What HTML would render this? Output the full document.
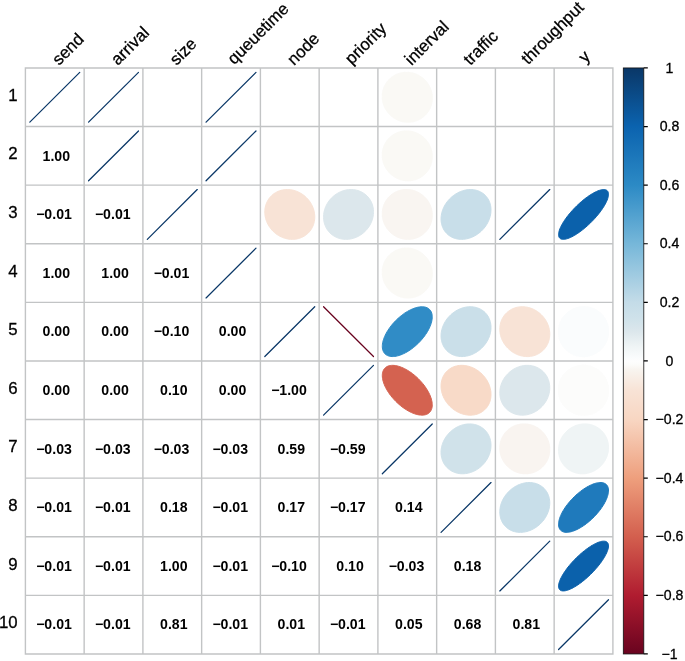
<!DOCTYPE html>
<html><head><meta charset="utf-8"><title>corrplot</title>
<style>html,body{margin:0;padding:0;background:#fff}svg{display:block}text{font-family:"Liberation Sans",sans-serif}</style></head><body>
<svg width="685" height="661" viewBox="0 0 685 661">
<rect width="685" height="661" fill="#fff"/>
<line x1="29.81" y1="122.16" x2="79.74" y2="72.34" stroke="#0A3767" stroke-width="1.25" stroke-linecap="round"/>
<line x1="88.56" y1="122.16" x2="138.49" y2="72.34" stroke="#0A3767" stroke-width="1.25" stroke-linecap="round"/>
<line x1="206.06" y1="122.16" x2="255.99" y2="72.34" stroke="#0A3767" stroke-width="1.25" stroke-linecap="round"/>
<polygon points="424.66,79.91 423.48,78.80 422.23,77.76 420.92,76.81 419.55,75.94 418.13,75.16 416.67,74.47 415.17,73.87 413.63,73.37 412.07,72.96 410.49,72.66 408.90,72.46 407.30,72.36 405.70,72.36 404.11,72.46 402.53,72.67 400.97,72.98 399.43,73.38 397.93,73.89 396.46,74.49 395.04,75.18 393.68,75.97 392.36,76.84 391.11,77.79 389.92,78.83 388.81,79.94 387.77,81.13 386.81,82.37 385.94,83.68 385.15,85.05 384.45,86.47 383.85,87.93 383.35,89.43 382.94,90.96 382.63,92.51 382.42,94.09 382.32,95.68 382.32,97.28 382.42,98.87 382.62,100.46 382.93,102.04 383.33,103.59 383.83,105.12 384.43,106.62 385.13,108.08 385.91,109.49 386.78,110.86 387.74,112.17 388.77,113.41 389.89,114.59 391.07,115.70 392.32,116.74 393.63,117.69 395.00,118.56 396.42,119.34 397.88,120.03 399.38,120.63 400.92,121.13 402.48,121.54 404.06,121.84 405.65,122.04 407.25,122.14 408.85,122.14 410.44,122.04 412.02,121.83 413.58,121.52 415.12,121.12 416.62,120.61 418.09,120.01 419.51,119.32 420.87,118.53 422.19,117.66 423.44,116.71 424.63,115.67 425.74,114.56 426.78,113.37 427.74,112.13 428.61,110.82 429.40,109.45 430.10,108.03 430.70,106.57 431.20,105.07 431.61,103.54 431.92,101.99 432.13,100.41 432.23,98.82 432.23,97.22 432.13,95.63 431.93,94.04 431.62,92.46 431.22,90.91 430.72,89.38 430.12,87.88 429.42,86.42 428.64,85.01 427.77,83.64 426.81,82.33 425.78,81.09 424.66,79.91" fill="#FAF9F5" stroke="#FAF9F5" stroke-width="1"/>
<line x1="88.56" y1="180.76" x2="138.49" y2="130.95" stroke="#0A3767" stroke-width="1.25" stroke-linecap="round"/>
<line x1="206.06" y1="180.76" x2="255.99" y2="130.95" stroke="#0A3767" stroke-width="1.25" stroke-linecap="round"/>
<polygon points="424.66,138.51 423.48,137.40 422.23,136.36 420.92,135.41 419.55,134.54 418.13,133.76 416.67,133.07 415.17,132.47 413.63,131.97 412.07,131.56 410.49,131.26 408.90,131.06 407.30,130.96 405.70,130.96 404.11,131.06 402.53,131.27 400.97,131.58 399.43,131.98 397.93,132.49 396.46,133.09 395.04,133.78 393.68,134.57 392.36,135.44 391.11,136.39 389.92,137.43 388.81,138.54 387.77,139.73 386.81,140.97 385.94,142.28 385.15,143.65 384.45,145.07 383.85,146.53 383.35,148.03 382.94,149.56 382.63,151.11 382.42,152.69 382.32,154.28 382.32,155.88 382.42,157.47 382.62,159.06 382.93,160.64 383.33,162.19 383.83,163.72 384.43,165.22 385.13,166.68 385.91,168.09 386.78,169.46 387.74,170.77 388.77,172.01 389.89,173.19 391.07,174.30 392.32,175.34 393.63,176.29 395.00,177.16 396.42,177.94 397.88,178.63 399.38,179.23 400.92,179.73 402.48,180.14 404.06,180.44 405.65,180.64 407.25,180.74 408.85,180.74 410.44,180.64 412.02,180.43 413.58,180.12 415.12,179.72 416.62,179.21 418.09,178.61 419.51,177.92 420.87,177.13 422.19,176.26 423.44,175.31 424.63,174.27 425.74,173.16 426.78,171.97 427.74,170.73 428.61,169.42 429.40,168.05 430.10,166.63 430.70,165.17 431.20,163.67 431.61,162.14 431.92,160.59 432.13,159.01 432.23,157.42 432.23,155.82 432.13,154.23 431.93,152.64 431.62,151.06 431.22,149.51 430.72,147.98 430.12,146.48 429.42,145.02 428.64,143.61 427.77,142.24 426.81,140.93 425.78,139.69 424.66,138.51" fill="#FAF9F5" stroke="#FAF9F5" stroke-width="1"/>
<line x1="147.31" y1="239.35" x2="197.24" y2="189.54" stroke="#0A3767" stroke-width="1.25" stroke-linecap="round"/>
<polygon points="306.52,197.74 305.30,196.59 304.02,195.52 302.68,194.52 301.28,193.60 299.84,192.77 298.35,192.03 296.83,191.38 295.28,190.83 293.71,190.37 292.12,190.01 290.53,189.76 288.92,189.60 287.33,189.55 285.74,189.59 284.17,189.74 282.62,189.99 281.10,190.35 279.62,190.80 278.18,191.35 276.79,191.99 275.45,192.73 274.17,193.55 272.95,194.46 271.80,195.45 270.73,196.52 269.73,197.67 268.82,198.88 267.99,200.16 267.26,201.50 266.61,202.89 266.06,204.32 265.61,205.80 265.26,207.32 265.00,208.86 264.85,210.43 264.81,212.01 264.86,213.60 265.02,215.20 265.28,216.79 265.64,218.38 266.09,219.94 266.65,221.49 267.30,223.00 268.04,224.49 268.88,225.93 269.79,227.32 270.80,228.66 271.87,229.94 273.03,231.16 274.25,232.31 275.53,233.38 276.87,234.38 278.27,235.30 279.71,236.13 281.20,236.87 282.72,237.52 284.27,238.07 285.84,238.53 287.43,238.89 289.02,239.14 290.63,239.30 292.22,239.35 293.81,239.31 295.38,239.16 296.93,238.91 298.45,238.55 299.93,238.10 301.37,237.55 302.76,236.91 304.10,236.17 305.38,235.35 306.60,234.44 307.75,233.45 308.82,232.38 309.82,231.23 310.73,230.02 311.56,228.74 312.29,227.40 312.94,226.01 313.49,224.58 313.94,223.10 314.29,221.58 314.55,220.04 314.70,218.47 314.74,216.89 314.69,215.30 314.53,213.70 314.27,212.11 313.91,210.52 313.46,208.96 312.90,207.41 312.25,205.90 311.51,204.41 310.67,202.97 309.76,201.58 308.75,200.24 307.68,198.96 306.52,197.74" fill="#F8E3D6" stroke="#F8E3D6" stroke-width="1"/>
<polygon points="367.04,195.98 365.93,194.95 364.75,194.00 363.50,193.13 362.19,192.35 360.82,191.66 359.40,191.06 357.94,190.56 356.44,190.16 354.91,189.86 353.35,189.66 351.77,189.56 350.17,189.56 348.57,189.66 346.98,189.87 345.38,190.18 343.80,190.59 342.24,191.09 340.70,191.70 339.20,192.39 337.74,193.18 336.32,194.05 334.95,195.01 333.63,196.05 332.38,197.16 331.19,198.34 330.07,199.59 329.03,200.91 328.07,202.27 327.20,203.69 326.41,205.15 325.71,206.65 325.11,208.18 324.60,209.74 324.19,211.31 323.88,212.90 323.68,214.50 323.57,216.10 323.57,217.68 323.67,219.26 323.87,220.82 324.17,222.34 324.57,223.84 325.08,225.30 325.67,226.71 326.36,228.08 327.15,229.39 328.02,230.63 328.97,231.81 330.01,232.92 331.12,233.95 332.30,234.90 333.55,235.77 334.86,236.55 336.23,237.24 337.65,237.84 339.11,238.34 340.61,238.74 342.14,239.04 343.70,239.24 345.28,239.34 346.88,239.34 348.48,239.24 350.07,239.03 351.67,238.72 353.25,238.31 354.81,237.81 356.35,237.20 357.85,236.51 359.31,235.72 360.73,234.85 362.10,233.89 363.42,232.85 364.67,231.74 365.86,230.56 366.98,229.31 368.02,227.99 368.98,226.63 369.85,225.21 370.64,223.75 371.34,222.25 371.94,220.72 372.45,219.16 372.86,217.59 373.17,216.00 373.37,214.40 373.48,212.80 373.48,211.22 373.38,209.64 373.18,208.08 372.88,206.56 372.48,205.06 371.97,203.60 371.38,202.19 370.69,200.82 369.90,199.51 369.03,198.27 368.08,197.09 367.04,195.98" fill="#DCE7EC" stroke="#DCE7EC" stroke-width="1"/>
<polygon points="424.66,197.11 423.48,196.00 422.23,194.96 420.92,194.01 419.55,193.14 418.13,192.36 416.67,191.67 415.17,191.07 413.63,190.57 412.07,190.16 410.49,189.86 408.90,189.66 407.30,189.56 405.70,189.56 404.11,189.66 402.53,189.87 400.97,190.18 399.43,190.58 397.93,191.09 396.46,191.69 395.04,192.38 393.68,193.17 392.36,194.04 391.11,194.99 389.92,196.03 388.81,197.14 387.77,198.33 386.81,199.57 385.94,200.88 385.15,202.25 384.45,203.67 383.85,205.13 383.35,206.63 382.94,208.16 382.63,209.71 382.42,211.29 382.32,212.88 382.32,214.48 382.42,216.07 382.62,217.66 382.93,219.24 383.33,220.79 383.83,222.32 384.43,223.82 385.13,225.28 385.91,226.69 386.78,228.06 387.74,229.37 388.77,230.61 389.89,231.79 391.07,232.90 392.32,233.94 393.63,234.89 395.00,235.76 396.42,236.54 397.88,237.23 399.38,237.83 400.92,238.33 402.48,238.74 404.06,239.04 405.65,239.24 407.25,239.34 408.85,239.34 410.44,239.24 412.02,239.03 413.58,238.72 415.12,238.32 416.62,237.81 418.09,237.21 419.51,236.52 420.87,235.73 422.19,234.86 423.44,233.91 424.63,232.87 425.74,231.76 426.78,230.57 427.74,229.33 428.61,228.02 429.40,226.65 430.10,225.23 430.70,223.77 431.20,222.27 431.61,220.74 431.92,219.19 432.13,217.61 432.23,216.02 432.23,214.42 432.13,212.83 431.93,211.24 431.62,209.66 431.22,208.11 430.72,206.58 430.12,205.08 429.42,203.62 428.64,202.21 427.77,200.84 426.81,199.53 425.78,198.29 424.66,197.11" fill="#F9F5F1" stroke="#F9F5F1" stroke-width="1"/>
<polygon points="485.20,195.32 484.14,194.34 483.00,193.44 481.79,192.62 480.52,191.90 479.19,191.27 477.80,190.73 476.37,190.30 474.89,189.96 473.38,189.72 471.83,189.58 470.26,189.55 468.68,189.61 467.08,189.78 465.48,190.05 463.88,190.43 462.30,190.90 460.72,191.46 459.17,192.12 457.64,192.88 456.15,193.72 454.71,194.65 453.30,195.65 451.95,196.74 450.66,197.90 449.43,199.12 448.27,200.41 447.18,201.76 446.17,203.16 445.24,204.61 444.40,206.09 443.64,207.61 442.98,209.16 442.41,210.73 441.94,212.32 441.57,213.91 441.30,215.51 441.13,217.10 441.06,218.68 441.09,220.24 441.23,221.78 441.47,223.29 441.81,224.77 442.25,226.20 442.79,227.58 443.42,228.91 444.14,230.18 444.96,231.38 445.86,232.52 446.85,233.58 447.91,234.56 449.05,235.46 450.26,236.28 451.53,237.00 452.86,237.63 454.25,238.17 455.68,238.60 457.16,238.94 458.67,239.18 460.22,239.32 461.79,239.35 463.37,239.29 464.97,239.12 466.57,238.85 468.17,238.47 469.75,238.00 471.33,237.44 472.88,236.78 474.41,236.02 475.90,235.18 477.34,234.25 478.75,233.25 480.10,232.16 481.39,231.00 482.62,229.78 483.78,228.49 484.87,227.14 485.88,225.74 486.81,224.29 487.65,222.81 488.41,221.29 489.07,219.74 489.64,218.17 490.11,216.58 490.48,214.99 490.75,213.39 490.92,211.80 490.99,210.22 490.96,208.66 490.82,207.12 490.58,205.61 490.24,204.13 489.80,202.70 489.26,201.32 488.63,199.99 487.91,198.72 487.09,197.52 486.19,196.38 485.20,195.32" fill="#C8DEE9" stroke="#C8DEE9" stroke-width="1"/>
<line x1="499.81" y1="239.35" x2="549.74" y2="189.54" stroke="#0A3767" stroke-width="1.25" stroke-linecap="round"/>
<polygon points="607.28,190.76 606.74,190.31 606.10,189.97 605.37,189.73 604.55,189.59 603.64,189.55 602.65,189.61 601.59,189.77 600.45,190.04 599.23,190.41 597.96,190.87 596.62,191.43 595.23,192.09 593.80,192.84 592.32,193.68 590.80,194.60 589.26,195.60 587.69,196.69 586.10,197.84 584.51,199.06 582.91,200.35 581.31,201.69 579.72,203.09 578.15,204.53 576.59,206.02 575.07,207.54 573.58,209.08 572.14,210.65 570.74,212.24 569.39,213.83 568.10,215.43 566.87,217.02 565.72,218.60 564.63,220.17 563.62,221.71 562.70,223.22 561.86,224.70 561.11,226.13 560.45,227.51 559.89,228.85 559.42,230.12 559.05,231.33 558.79,232.47 558.62,233.53 558.56,234.52 558.60,235.42 558.74,236.24 558.98,236.97 559.33,237.60 559.77,238.14 560.31,238.59 560.95,238.93 561.68,239.17 562.50,239.31 563.41,239.35 564.40,239.29 565.46,239.13 566.60,238.86 567.82,238.49 569.09,238.03 570.43,237.47 571.82,236.81 573.25,236.06 574.73,235.22 576.25,234.30 577.79,233.30 579.36,232.21 580.95,231.06 582.54,229.84 584.14,228.55 585.74,227.21 587.33,225.81 588.90,224.37 590.46,222.88 591.98,221.36 593.47,219.82 594.91,218.25 596.31,216.66 597.66,215.07 598.95,213.47 600.18,211.88 601.33,210.30 602.42,208.73 603.43,207.19 604.35,205.68 605.19,204.20 605.94,202.77 606.60,201.39 607.16,200.05 607.63,198.78 608.00,197.57 608.26,196.43 608.43,195.37 608.49,194.38 608.45,193.48 608.31,192.66 608.07,191.93 607.72,191.30 607.28,190.76" fill="#0B61AB" stroke="#0B61AB" stroke-width="1"/>
<line x1="206.06" y1="297.96" x2="255.99" y2="248.15" stroke="#0A3767" stroke-width="1.25" stroke-linecap="round"/>
<polygon points="424.66,255.71 423.48,254.60 422.23,253.56 420.92,252.61 419.55,251.74 418.13,250.96 416.67,250.27 415.17,249.67 413.63,249.17 412.07,248.76 410.49,248.46 408.90,248.26 407.30,248.16 405.70,248.16 404.11,248.26 402.53,248.47 400.97,248.78 399.43,249.18 397.93,249.69 396.46,250.29 395.04,250.98 393.68,251.77 392.36,252.64 391.11,253.59 389.92,254.63 388.81,255.74 387.77,256.93 386.81,258.17 385.94,259.48 385.15,260.85 384.45,262.27 383.85,263.73 383.35,265.23 382.94,266.76 382.63,268.31 382.42,269.89 382.32,271.48 382.32,273.08 382.42,274.67 382.62,276.26 382.93,277.84 383.33,279.39 383.83,280.92 384.43,282.42 385.13,283.88 385.91,285.29 386.78,286.66 387.74,287.97 388.77,289.21 389.89,290.39 391.07,291.50 392.32,292.54 393.63,293.49 395.00,294.36 396.42,295.14 397.88,295.83 399.38,296.43 400.92,296.93 402.48,297.34 404.06,297.64 405.65,297.84 407.25,297.94 408.85,297.94 410.44,297.84 412.02,297.63 413.58,297.32 415.12,296.92 416.62,296.41 418.09,295.81 419.51,295.12 420.87,294.33 422.19,293.46 423.44,292.51 424.63,291.47 425.74,290.36 426.78,289.17 427.74,287.93 428.61,286.62 429.40,285.25 430.10,283.83 430.70,282.37 431.20,280.87 431.61,279.34 431.92,277.79 432.13,276.21 432.23,274.62 432.23,273.02 432.13,271.43 431.93,269.84 431.62,268.26 431.22,266.71 430.72,265.18 430.12,263.68 429.42,262.22 428.64,260.81 427.77,259.44 426.81,258.13 425.78,256.89 424.66,255.71" fill="#FAF9F5" stroke="#FAF9F5" stroke-width="1"/>
<line x1="264.81" y1="356.55" x2="314.74" y2="306.75" stroke="#0A3767" stroke-width="1.25" stroke-linecap="round"/>
<line x1="323.56" y1="306.75" x2="373.49" y2="356.55" stroke="#69031F" stroke-width="1.25" stroke-linecap="round"/>
<polygon points="429.54,309.44 428.77,308.77 427.91,308.18 426.97,307.70 425.94,307.31 424.84,307.02 423.67,306.84 422.43,306.75 421.13,306.77 419.77,306.89 418.36,307.11 416.90,307.43 415.40,307.85 413.87,308.37 412.32,308.99 410.74,309.70 409.15,310.50 407.55,311.38 405.95,312.35 404.35,313.40 402.77,314.52 401.21,315.72 399.67,316.97 398.16,318.29 396.69,319.67 395.26,321.09 393.88,322.56 392.56,324.06 391.30,325.60 390.10,327.16 388.98,328.74 387.93,330.33 386.95,331.92 386.07,333.52 385.27,335.11 384.56,336.68 383.94,338.23 383.42,339.76 382.99,341.25 382.67,342.70 382.45,344.11 382.33,345.47 382.31,346.76 382.40,348.00 382.58,349.17 382.87,350.27 383.26,351.29 383.75,352.23 384.33,353.09 385.01,353.86 385.78,354.53 386.64,355.12 387.58,355.60 388.61,355.99 389.71,356.28 390.88,356.46 392.12,356.55 393.42,356.53 394.78,356.41 396.19,356.19 397.65,355.87 399.15,355.45 400.68,354.93 402.23,354.31 403.81,353.60 405.40,352.80 407.00,351.92 408.60,350.95 410.20,349.90 411.78,348.78 413.34,347.58 414.88,346.33 416.39,345.01 417.86,343.63 419.29,342.21 420.67,340.74 421.99,339.24 423.25,337.70 424.45,336.14 425.57,334.56 426.62,332.97 427.60,331.38 428.48,329.78 429.28,328.19 429.99,326.62 430.61,325.07 431.13,323.54 431.56,322.05 431.88,320.60 432.10,319.19 432.22,317.83 432.24,316.54 432.15,315.30 431.97,314.13 431.68,313.03 431.29,312.01 430.80,311.07 430.22,310.21 429.54,309.44" fill="#308CC6" stroke="#308CC6" stroke-width="1"/>
<polygon points="485.12,312.60 484.05,311.61 482.91,310.71 481.70,309.89 480.42,309.15 479.08,308.52 477.69,307.97 476.25,307.53 474.77,307.18 473.26,306.93 471.71,306.79 470.14,306.75 468.55,306.80 466.96,306.97 465.36,307.23 463.76,307.59 462.17,308.06 460.60,308.61 459.05,309.27 457.53,310.01 456.04,310.85 454.59,311.77 453.19,312.77 451.85,313.85 450.56,315.00 449.34,316.22 448.18,317.51 447.10,318.85 446.09,320.25 445.17,321.69 444.33,323.17 443.59,324.69 442.93,326.24 442.37,327.80 441.91,329.39 441.54,330.98 441.28,332.58 441.12,334.17 441.06,335.75 441.10,337.32 441.24,338.86 441.49,340.37 441.84,341.85 442.29,343.29 442.83,344.67 443.47,346.01 444.20,347.28 445.03,348.49 445.94,349.63 446.93,350.70 448.00,351.69 449.14,352.59 450.35,353.41 451.63,354.15 452.97,354.78 454.36,355.33 455.80,355.77 457.28,356.12 458.79,356.37 460.34,356.51 461.91,356.55 463.50,356.50 465.09,356.33 466.69,356.07 468.29,355.71 469.88,355.24 471.45,354.69 473.00,354.03 474.52,353.29 476.01,352.45 477.46,351.53 478.86,350.53 480.20,349.45 481.49,348.30 482.71,347.08 483.87,345.79 484.95,344.45 485.96,343.05 486.88,341.61 487.72,340.13 488.46,338.61 489.12,337.06 489.68,335.50 490.14,333.91 490.51,332.32 490.77,330.72 490.93,329.13 490.99,327.55 490.95,325.98 490.81,324.44 490.56,322.93 490.21,321.45 489.76,320.01 489.22,318.63 488.58,317.29 487.85,316.02 487.02,314.81 486.11,313.67 485.12,312.60" fill="#CADFE9" stroke="#CADFE9" stroke-width="1"/>
<polygon points="541.52,314.94 540.30,313.79 539.02,312.72 537.68,311.72 536.28,310.80 534.84,309.97 533.35,309.23 531.83,308.58 530.28,308.03 528.71,307.57 527.12,307.21 525.53,306.96 523.92,306.80 522.33,306.75 520.74,306.79 519.17,306.94 517.62,307.19 516.10,307.55 514.62,308.00 513.18,308.55 511.79,309.19 510.45,309.93 509.17,310.75 507.95,311.66 506.80,312.65 505.73,313.72 504.73,314.87 503.82,316.08 502.99,317.36 502.26,318.70 501.61,320.09 501.06,321.52 500.61,323.00 500.26,324.52 500.00,326.06 499.85,327.63 499.81,329.21 499.86,330.80 500.02,332.40 500.28,333.99 500.64,335.58 501.09,337.14 501.65,338.69 502.30,340.20 503.04,341.69 503.88,343.13 504.79,344.52 505.80,345.86 506.87,347.14 508.03,348.36 509.25,349.51 510.53,350.58 511.87,351.58 513.27,352.50 514.71,353.33 516.20,354.07 517.72,354.72 519.27,355.27 520.84,355.73 522.43,356.09 524.02,356.34 525.63,356.50 527.22,356.55 528.81,356.51 530.38,356.36 531.93,356.11 533.45,355.75 534.93,355.30 536.37,354.75 537.76,354.11 539.10,353.37 540.38,352.55 541.60,351.64 542.75,350.65 543.82,349.58 544.82,348.43 545.73,347.22 546.56,345.94 547.29,344.60 547.94,343.21 548.49,341.78 548.94,340.30 549.29,338.78 549.55,337.24 549.70,335.67 549.74,334.09 549.69,332.50 549.53,330.90 549.27,329.31 548.91,327.72 548.46,326.16 547.90,324.61 547.25,323.10 546.51,321.61 545.67,320.17 544.76,318.78 543.75,317.44 542.68,316.16 541.52,314.94" fill="#F8E3D6" stroke="#F8E3D6" stroke-width="1"/>
<polygon points="601.27,313.95 600.11,312.87 598.88,311.86 597.58,310.93 596.23,310.09 594.83,309.33 593.38,308.67 591.89,308.10 590.36,307.63 588.81,307.26 587.24,306.99 585.65,306.82 584.05,306.75 582.45,306.78 580.85,306.92 579.27,307.15 577.70,307.49 576.16,307.93 574.64,308.46 573.17,309.09 571.73,309.82 570.35,310.63 569.01,311.53 567.74,312.51 566.54,313.57 565.40,314.70 564.34,315.91 563.35,317.18 562.45,318.51 561.64,319.89 560.91,321.32 560.28,322.79 559.74,324.30 559.30,325.84 558.97,327.40 558.73,328.99 558.59,330.58 558.56,332.17 558.63,333.77 558.80,335.35 559.07,336.92 559.44,338.47 559.92,339.99 560.49,341.48 561.15,342.93 561.91,344.32 562.75,345.67 563.68,346.96 564.69,348.19 565.78,349.35 566.94,350.43 568.17,351.44 569.47,352.37 570.82,353.21 572.22,353.97 573.67,354.63 575.16,355.20 576.69,355.67 578.24,356.04 579.81,356.31 581.40,356.48 583.00,356.55 584.60,356.52 586.20,356.38 587.78,356.15 589.35,355.81 590.89,355.37 592.41,354.84 593.88,354.21 595.32,353.48 596.70,352.67 598.04,351.77 599.31,350.79 600.51,349.73 601.65,348.60 602.71,347.39 603.70,346.12 604.60,344.79 605.41,343.41 606.14,341.98 606.77,340.51 607.31,339.00 607.75,337.46 608.08,335.90 608.32,334.31 608.46,332.72 608.49,331.13 608.42,329.53 608.25,327.95 607.98,326.38 607.61,324.83 607.13,323.31 606.56,321.82 605.90,320.37 605.14,318.98 604.30,317.63 603.37,316.34 602.36,315.11 601.27,313.95" fill="#FAFCFD" stroke="#FAFCFD" stroke-width="1"/>
<line x1="323.56" y1="415.15" x2="373.49" y2="365.35" stroke="#0A3767" stroke-width="1.25" stroke-linecap="round"/>
<polygon points="418.58,378.97 417.13,377.57 415.64,376.23 414.12,374.94 412.56,373.71 410.99,372.55 409.40,371.46 407.80,370.46 406.20,369.53 404.60,368.69 403.02,367.93 401.45,367.27 399.91,366.70 398.39,366.23 396.92,365.86 395.48,365.59 394.10,365.42 392.77,365.35 391.49,365.38 390.29,365.52 389.15,365.75 388.09,366.09 387.10,366.53 386.20,367.06 385.39,367.69 384.66,368.42 384.03,369.23 383.49,370.13 383.05,371.11 382.72,372.17 382.48,373.30 382.34,374.51 382.31,375.78 382.38,377.11 382.55,378.49 382.82,379.92 383.19,381.39 383.67,382.90 384.24,384.44 384.90,386.01 385.66,387.59 386.50,389.18 387.43,390.77 388.44,392.37 389.53,393.95 390.69,395.52 391.92,397.07 393.22,398.59 394.57,400.08 395.97,401.53 397.42,402.93 398.91,404.27 400.43,405.56 401.99,406.79 403.56,407.95 405.15,409.04 406.75,410.04 408.35,410.97 409.95,411.81 411.53,412.57 413.10,413.23 414.64,413.80 416.16,414.27 417.63,414.64 419.07,414.91 420.45,415.08 421.78,415.15 423.06,415.12 424.26,414.98 425.40,414.75 426.46,414.41 427.45,413.97 428.35,413.44 429.16,412.81 429.89,412.08 430.52,411.27 431.06,410.37 431.50,409.39 431.83,408.33 432.07,407.20 432.21,405.99 432.24,404.72 432.17,403.39 432.00,402.01 431.73,400.58 431.36,399.11 430.88,397.60 430.31,396.06 429.65,394.49 428.89,392.91 428.05,391.32 427.12,389.73 426.11,388.13 425.02,386.55 423.86,384.98 422.63,383.43 421.33,381.91 419.98,380.42 418.58,378.97" fill="#D46250" stroke="#D46250" stroke-width="1"/>
<polygon points="482.11,374.21 480.85,373.02 479.54,371.90 478.16,370.86 476.74,369.90 475.27,369.02 473.77,368.23 472.23,367.53 470.67,366.92 469.09,366.41 467.49,366.00 465.89,365.69 464.29,365.47 462.70,365.36 461.12,365.35 459.56,365.45 458.03,365.64 456.53,365.94 455.07,366.34 453.66,366.83 452.29,367.42 450.99,368.11 449.74,368.88 448.56,369.75 447.45,370.70 446.42,371.73 445.47,372.83 444.61,374.01 443.83,375.25 443.14,376.55 442.55,377.91 442.05,379.33 441.65,380.78 441.36,382.28 441.16,383.81 441.07,385.36 441.07,386.94 441.18,388.52 441.40,390.12 441.71,391.71 442.13,393.30 442.64,394.88 443.25,396.44 443.95,397.97 444.74,399.47 445.62,400.94 446.59,402.36 447.63,403.73 448.75,405.04 449.94,406.29 451.20,407.48 452.51,408.60 453.89,409.64 455.31,410.60 456.78,411.48 458.28,412.27 459.82,412.97 461.38,413.58 462.96,414.09 464.56,414.50 466.16,414.81 467.76,415.03 469.35,415.14 470.93,415.15 472.49,415.05 474.02,414.86 475.52,414.56 476.98,414.16 478.39,413.67 479.76,413.08 481.06,412.39 482.31,411.62 483.49,410.75 484.60,409.80 485.63,408.77 486.58,407.67 487.44,406.49 488.22,405.25 488.91,403.95 489.50,402.59 490.00,401.17 490.40,399.72 490.69,398.22 490.89,396.69 490.98,395.14 490.98,393.56 490.87,391.98 490.65,390.38 490.34,388.79 489.92,387.20 489.41,385.62 488.80,384.06 488.10,382.53 487.31,381.03 486.43,379.56 485.46,378.14 484.42,376.77 483.30,375.46 482.11,374.21" fill="#F8DAC8" stroke="#F8DAC8" stroke-width="1"/>
<polygon points="543.29,371.78 542.18,370.75 541.00,369.80 539.75,368.93 538.44,368.15 537.07,367.46 535.65,366.86 534.19,366.36 532.69,365.96 531.16,365.66 529.60,365.46 528.02,365.36 526.42,365.36 524.82,365.46 523.23,365.67 521.63,365.98 520.05,366.39 518.49,366.89 516.95,367.50 515.45,368.19 513.99,368.98 512.57,369.85 511.20,370.81 509.88,371.85 508.63,372.96 507.44,374.14 506.32,375.39 505.28,376.71 504.32,378.07 503.45,379.49 502.66,380.95 501.96,382.45 501.36,383.98 500.85,385.54 500.44,387.11 500.13,388.70 499.93,390.30 499.82,391.90 499.82,393.48 499.92,395.06 500.12,396.62 500.42,398.14 500.82,399.64 501.33,401.10 501.92,402.51 502.61,403.88 503.40,405.19 504.27,406.43 505.22,407.61 506.26,408.72 507.37,409.75 508.55,410.70 509.80,411.57 511.11,412.35 512.48,413.04 513.90,413.64 515.36,414.14 516.86,414.54 518.39,414.84 519.95,415.04 521.53,415.14 523.13,415.14 524.73,415.04 526.32,414.83 527.92,414.52 529.50,414.11 531.06,413.61 532.60,413.00 534.10,412.31 535.56,411.52 536.98,410.65 538.35,409.69 539.67,408.65 540.92,407.54 542.11,406.36 543.23,405.11 544.27,403.79 545.23,402.43 546.10,401.01 546.89,399.55 547.59,398.05 548.19,396.52 548.70,394.96 549.11,393.39 549.42,391.80 549.62,390.20 549.73,388.60 549.73,387.02 549.63,385.44 549.43,383.88 549.13,382.36 548.73,380.86 548.22,379.40 547.63,377.99 546.94,376.62 546.15,375.31 545.28,374.07 544.33,372.89 543.29,371.78" fill="#DCE7EC" stroke="#DCE7EC" stroke-width="1"/>
<polygon points="601.09,372.73 599.92,371.63 598.68,370.61 597.38,369.67 596.02,368.81 594.61,368.04 593.15,367.37 591.65,366.78 590.12,366.30 588.57,365.91 586.99,365.62 585.40,365.44 583.80,365.35 582.20,365.37 580.61,365.49 579.02,365.71 577.46,366.03 575.92,366.45 574.41,366.97 572.94,367.59 571.51,368.30 570.14,369.10 568.81,369.98 567.55,370.95 566.35,372.00 565.23,373.12 564.18,374.32 563.21,375.58 562.32,376.89 561.52,378.27 560.81,379.69 560.19,381.16 559.67,382.66 559.25,384.20 558.92,385.76 558.70,387.34 558.58,388.93 558.56,390.52 558.65,392.12 558.83,393.71 559.12,395.28 559.51,396.83 560.00,398.36 560.58,399.85 561.26,401.30 562.03,402.71 562.89,404.07 563.83,405.37 564.86,406.60 565.96,407.77 567.13,408.87 568.37,409.89 569.67,410.83 571.03,411.69 572.44,412.46 573.90,413.13 575.40,413.72 576.93,414.20 578.48,414.59 580.06,414.88 581.65,415.06 583.25,415.15 584.85,415.13 586.44,415.01 588.03,414.79 589.59,414.47 591.13,414.05 592.64,413.53 594.11,412.91 595.54,412.20 596.91,411.40 598.24,410.52 599.50,409.55 600.70,408.50 601.82,407.38 602.87,406.18 603.84,404.92 604.73,403.61 605.53,402.23 606.24,400.81 606.86,399.34 607.38,397.84 607.80,396.30 608.13,394.74 608.35,393.16 608.47,391.57 608.49,389.98 608.40,388.38 608.22,386.79 607.93,385.22 607.54,383.67 607.05,382.14 606.47,380.65 605.79,379.20 605.02,377.79 604.16,376.43 603.22,375.13 602.19,373.90 601.09,372.73" fill="#FCFCFB" stroke="#FCFCFB" stroke-width="1"/>
<line x1="382.31" y1="473.75" x2="432.24" y2="423.95" stroke="#0A3767" stroke-width="1.25" stroke-linecap="round"/>
<polygon points="484.88,430.05 483.79,429.04 482.63,428.11 481.40,427.27 480.11,426.52 478.76,425.86 477.35,425.29 475.91,424.82 474.42,424.45 472.89,424.18 471.34,424.01 469.77,423.95 468.18,423.98 466.58,424.12 464.98,424.36 463.38,424.70 461.80,425.14 460.23,425.67 458.68,426.31 457.17,427.03 455.69,427.84 454.26,428.74 452.87,429.73 451.54,430.79 450.26,431.92 449.06,433.13 447.92,434.40 446.85,435.73 445.87,437.11 444.97,438.54 444.15,440.02 443.42,441.53 442.79,443.07 442.25,444.63 441.81,446.21 441.47,447.81 441.23,449.40 441.09,451.00 441.06,452.58 441.12,454.15 441.29,455.70 441.57,457.22 441.94,458.70 442.41,460.15 442.98,461.55 443.64,462.90 444.39,464.18 445.24,465.41 446.16,466.57 447.17,467.65 448.26,468.66 449.42,469.59 450.65,470.43 451.94,471.18 453.29,471.84 454.70,472.41 456.14,472.88 457.63,473.25 459.16,473.52 460.71,473.69 462.28,473.75 463.87,473.72 465.47,473.58 467.07,473.34 468.67,473.00 470.25,472.56 471.82,472.03 473.37,471.39 474.88,470.67 476.36,469.86 477.79,468.96 479.18,467.97 480.51,466.91 481.79,465.78 482.99,464.57 484.13,463.30 485.20,461.97 486.18,460.59 487.08,459.16 487.90,457.68 488.63,456.17 489.26,454.63 489.80,453.07 490.24,451.49 490.58,449.89 490.82,448.30 490.96,446.70 490.99,445.12 490.93,443.55 490.76,442.00 490.48,440.48 490.11,439.00 489.64,437.55 489.07,436.15 488.41,434.80 487.66,433.52 486.81,432.29 485.89,431.13 484.88,430.05" fill="#D0E2EA" stroke="#D0E2EA" stroke-width="1"/>
<polygon points="542.16,431.51 540.98,430.40 539.73,429.36 538.42,428.41 537.05,427.54 535.63,426.76 534.17,426.07 532.67,425.47 531.13,424.97 529.57,424.56 527.99,424.26 526.40,424.06 524.80,423.96 523.20,423.96 521.61,424.06 520.03,424.27 518.47,424.58 516.93,424.98 515.43,425.49 513.96,426.09 512.54,426.78 511.18,427.57 509.86,428.44 508.61,429.39 507.42,430.43 506.31,431.54 505.27,432.73 504.31,433.97 503.44,435.28 502.65,436.65 501.95,438.07 501.35,439.53 500.85,441.03 500.44,442.56 500.13,444.11 499.92,445.69 499.82,447.28 499.82,448.88 499.92,450.47 500.12,452.06 500.43,453.64 500.83,455.19 501.33,456.72 501.93,458.22 502.63,459.68 503.41,461.09 504.28,462.46 505.24,463.77 506.27,465.01 507.39,466.19 508.57,467.30 509.82,468.34 511.13,469.29 512.50,470.16 513.92,470.94 515.38,471.63 516.88,472.23 518.42,472.73 519.98,473.14 521.56,473.44 523.15,473.64 524.75,473.74 526.35,473.74 527.94,473.64 529.52,473.43 531.08,473.12 532.62,472.72 534.12,472.21 535.59,471.61 537.01,470.92 538.37,470.13 539.69,469.26 540.94,468.31 542.13,467.27 543.24,466.16 544.28,464.97 545.24,463.73 546.11,462.42 546.90,461.05 547.60,459.63 548.20,458.17 548.70,456.67 549.11,455.14 549.42,453.59 549.63,452.01 549.73,450.42 549.73,448.82 549.63,447.23 549.43,445.64 549.12,444.06 548.72,442.51 548.22,440.98 547.62,439.48 546.92,438.02 546.14,436.61 545.27,435.24 544.31,433.93 543.28,432.69 542.16,431.51" fill="#F9F4F0" stroke="#F9F4F0" stroke-width="1"/>
<polygon points="601.62,430.80 600.48,429.74 599.27,428.76 597.99,427.86 596.66,427.04 595.27,426.32 593.84,425.68 592.36,425.14 590.84,424.70 589.30,424.36 587.73,424.12 586.15,423.98 584.55,423.95 582.95,424.01 581.35,424.18 579.76,424.45 578.19,424.82 576.64,425.29 575.11,425.85 573.62,426.51 572.18,427.26 570.77,428.10 569.42,429.03 568.13,430.03 566.91,431.12 565.75,432.27 564.66,433.50 563.65,434.79 562.72,436.13 561.88,437.53 561.13,438.97 560.47,440.46 559.90,441.98 559.43,443.53 559.06,445.10 558.79,446.68 558.62,448.28 558.56,449.87 558.59,451.46 558.73,453.05 558.97,454.61 559.32,456.15 559.76,457.66 560.30,459.14 560.93,460.57 561.66,461.95 562.48,463.28 563.38,464.55 564.37,465.76 565.43,466.90 566.57,467.96 567.78,468.94 569.06,469.84 570.39,470.66 571.78,471.38 573.21,472.02 574.69,472.56 576.21,473.00 577.75,473.34 579.32,473.58 580.90,473.72 582.50,473.75 584.10,473.69 585.70,473.52 587.29,473.25 588.86,472.88 590.41,472.41 591.94,471.85 593.43,471.19 594.87,470.44 596.28,469.60 597.63,468.67 598.92,467.67 600.14,466.58 601.30,465.43 602.39,464.20 603.40,462.91 604.33,461.57 605.17,460.17 605.92,458.73 606.58,457.24 607.15,455.72 607.62,454.17 607.99,452.60 608.26,451.02 608.43,449.42 608.49,447.83 608.46,446.24 608.32,444.65 608.08,443.09 607.73,441.55 607.29,440.04 606.75,438.56 606.12,437.13 605.39,435.75 604.57,434.42 603.67,433.15 602.68,431.94 601.62,430.80" fill="#EFF4F5" stroke="#EFF4F5" stroke-width="1"/>
<line x1="441.06" y1="532.36" x2="490.99" y2="482.54" stroke="#0A3767" stroke-width="1.25" stroke-linecap="round"/>
<polygon points="543.95,488.32 542.89,487.34 541.75,486.44 540.54,485.62 539.27,484.90 537.94,484.27 536.55,483.73 535.12,483.30 533.64,482.96 532.13,482.72 530.58,482.58 529.01,482.55 527.43,482.61 525.83,482.78 524.23,483.05 522.63,483.43 521.05,483.90 519.47,484.46 517.92,485.12 516.39,485.88 514.90,486.72 513.46,487.65 512.05,488.65 510.70,489.74 509.41,490.90 508.18,492.12 507.02,493.41 505.93,494.76 504.92,496.16 503.99,497.61 503.15,499.09 502.39,500.61 501.73,502.16 501.16,503.73 500.69,505.32 500.32,506.91 500.05,508.51 499.88,510.10 499.81,511.68 499.84,513.24 499.98,514.78 500.22,516.29 500.56,517.77 501.00,519.20 501.54,520.58 502.17,521.91 502.89,523.18 503.71,524.38 504.61,525.52 505.60,526.58 506.66,527.56 507.80,528.46 509.01,529.28 510.28,530.00 511.61,530.63 513.00,531.17 514.43,531.60 515.91,531.94 517.42,532.18 518.97,532.32 520.54,532.35 522.12,532.29 523.72,532.12 525.32,531.85 526.92,531.47 528.50,531.00 530.08,530.44 531.63,529.78 533.16,529.02 534.65,528.18 536.09,527.25 537.50,526.25 538.85,525.16 540.14,524.00 541.37,522.78 542.53,521.49 543.62,520.14 544.63,518.74 545.56,517.29 546.40,515.81 547.16,514.29 547.82,512.74 548.39,511.17 548.86,509.58 549.23,507.99 549.50,506.39 549.67,504.80 549.74,503.22 549.71,501.66 549.57,500.12 549.33,498.61 548.99,497.13 548.55,495.70 548.01,494.32 547.38,492.99 546.66,491.72 545.84,490.52 544.94,489.38 543.95,488.32" fill="#C8DEE9" stroke="#C8DEE9" stroke-width="1"/>
<polygon points="606.41,484.62 605.72,484.03 604.94,483.54 604.08,483.14 603.13,482.84 602.10,482.65 600.99,482.55 599.81,482.56 598.56,482.67 597.26,482.89 595.89,483.20 594.48,483.61 593.02,484.12 591.52,484.73 589.98,485.43 588.43,486.22 586.85,487.10 585.25,488.06 583.66,489.10 582.06,490.22 580.46,491.41 578.88,492.66 577.32,493.97 575.78,495.34 574.28,496.76 572.81,498.22 571.39,499.73 570.01,501.26 568.70,502.82 567.44,504.39 566.25,505.98 565.13,507.58 564.09,509.18 563.12,510.76 562.24,512.34 561.45,513.89 560.75,515.42 560.14,516.92 559.63,518.37 559.21,519.78 558.90,521.15 558.68,522.45 558.57,523.69 558.57,524.87 558.66,525.97 558.86,527.00 559.15,527.95 559.55,528.81 560.05,529.59 560.64,530.28 561.33,530.87 562.11,531.36 562.97,531.76 563.92,532.06 564.95,532.25 566.06,532.35 567.24,532.34 568.49,532.23 569.79,532.01 571.16,531.70 572.57,531.29 574.03,530.78 575.53,530.17 577.07,529.47 578.62,528.68 580.20,527.80 581.80,526.84 583.39,525.80 584.99,524.68 586.59,523.49 588.17,522.24 589.73,520.93 591.27,519.56 592.77,518.14 594.24,516.68 595.66,515.17 597.04,513.64 598.35,512.08 599.61,510.51 600.80,508.92 601.92,507.32 602.96,505.72 603.93,504.14 604.81,502.56 605.60,501.01 606.30,499.48 606.91,497.98 607.42,496.53 607.84,495.12 608.15,493.75 608.37,492.45 608.48,491.21 608.48,490.03 608.39,488.93 608.19,487.90 607.90,486.95 607.50,486.09 607.00,485.31 606.41,484.62" fill="#1F7ABC" stroke="#1F7ABC" stroke-width="1"/>
<line x1="499.81" y1="590.96" x2="549.74" y2="541.15" stroke="#0A3767" stroke-width="1.25" stroke-linecap="round"/>
<polygon points="607.28,542.36 606.74,541.91 606.10,541.57 605.37,541.33 604.55,541.19 603.64,541.15 602.65,541.21 601.59,541.37 600.45,541.64 599.23,542.01 597.96,542.47 596.62,543.03 595.23,543.69 593.80,544.44 592.32,545.28 590.80,546.20 589.26,547.20 587.69,548.29 586.10,549.44 584.51,550.66 582.91,551.95 581.31,553.29 579.72,554.69 578.15,556.13 576.59,557.62 575.07,559.14 573.58,560.68 572.14,562.25 570.74,563.84 569.39,565.43 568.10,567.03 566.87,568.62 565.72,570.20 564.63,571.77 563.62,573.31 562.70,574.82 561.86,576.30 561.11,577.73 560.45,579.11 559.89,580.45 559.42,581.72 559.05,582.93 558.79,584.07 558.62,585.13 558.56,586.12 558.60,587.02 558.74,587.84 558.98,588.57 559.33,589.20 559.77,589.74 560.31,590.19 560.95,590.53 561.68,590.77 562.50,590.91 563.41,590.95 564.40,590.89 565.46,590.73 566.60,590.46 567.82,590.09 569.09,589.63 570.43,589.07 571.82,588.41 573.25,587.66 574.73,586.82 576.25,585.90 577.79,584.90 579.36,583.81 580.95,582.66 582.54,581.44 584.14,580.15 585.74,578.81 587.33,577.41 588.90,575.97 590.46,574.48 591.98,572.96 593.47,571.42 594.91,569.85 596.31,568.26 597.66,566.67 598.95,565.07 600.18,563.48 601.33,561.90 602.42,560.33 603.43,558.79 604.35,557.28 605.19,555.80 605.94,554.37 606.60,552.99 607.16,551.65 607.63,550.38 608.00,549.17 608.26,548.03 608.43,546.97 608.49,545.98 608.45,545.08 608.31,544.26 608.07,543.53 607.72,542.90 607.28,542.36" fill="#0B61AB" stroke="#0B61AB" stroke-width="1"/>
<line x1="558.56" y1="649.56" x2="608.49" y2="599.75" stroke="#0A3767" stroke-width="1.25" stroke-linecap="round"/>
<path d="M25.40 67.95V653.95M25.40 67.95H612.90M84.15 67.95V653.95M25.40 126.55H612.90M142.90 67.95V653.95M25.40 185.15H612.90M201.65 67.95V653.95M25.40 243.75H612.90M260.40 67.95V653.95M25.40 302.35H612.90M319.15 67.95V653.95M25.40 360.95H612.90M377.90 67.95V653.95M25.40 419.55H612.90M436.65 67.95V653.95M25.40 478.15H612.90M495.40 67.95V653.95M25.40 536.75H612.90M554.15 67.95V653.95M25.40 595.35H612.90M612.90 67.95V653.95M25.40 653.95H612.90" stroke="#C2C4C5" stroke-width="1.4" fill="none" stroke-linecap="square"/>
<g font-size="14.1" font-weight="bold" text-anchor="middle" fill="#000">
<text x="56.27" y="160.55">1.00</text>
<text x="53.98" y="219.15">−0.01</text>
<text x="112.73" y="219.15">−0.01</text>
<text x="56.27" y="277.75">1.00</text>
<text x="115.03" y="277.75">1.00</text>
<text x="171.47" y="277.75">−0.01</text>
<text x="56.27" y="336.35">0.00</text>
<text x="115.03" y="336.35">0.00</text>
<text x="171.47" y="336.35">−0.10</text>
<text x="232.53" y="336.35">0.00</text>
<text x="56.27" y="394.95">0.00</text>
<text x="115.03" y="394.95">0.00</text>
<text x="173.78" y="394.95">0.10</text>
<text x="232.53" y="394.95">0.00</text>
<text x="288.97" y="394.95">−1.00</text>
<text x="53.98" y="453.55">−0.03</text>
<text x="112.73" y="453.55">−0.03</text>
<text x="171.47" y="453.55">−0.03</text>
<text x="230.22" y="453.55">−0.03</text>
<text x="291.27" y="453.55">0.59</text>
<text x="347.72" y="453.55">−0.59</text>
<text x="53.98" y="512.15">−0.01</text>
<text x="112.73" y="512.15">−0.01</text>
<text x="173.78" y="512.15">0.18</text>
<text x="230.22" y="512.15">−0.01</text>
<text x="291.27" y="512.15">0.17</text>
<text x="347.72" y="512.15">−0.17</text>
<text x="408.77" y="512.15">0.14</text>
<text x="53.98" y="570.75">−0.01</text>
<text x="112.73" y="570.75">−0.01</text>
<text x="173.78" y="570.75">1.00</text>
<text x="230.22" y="570.75">−0.01</text>
<text x="288.97" y="570.75">−0.10</text>
<text x="350.02" y="570.75">0.10</text>
<text x="406.47" y="570.75">−0.03</text>
<text x="467.52" y="570.75">0.18</text>
<text x="53.98" y="629.35">−0.01</text>
<text x="112.73" y="629.35">−0.01</text>
<text x="173.78" y="629.35">0.81</text>
<text x="230.22" y="629.35">−0.01</text>
<text x="291.27" y="629.35">0.01</text>
<text x="347.72" y="629.35">−0.01</text>
<text x="408.77" y="629.35">0.05</text>
<text x="467.52" y="629.35">0.68</text>
<text x="526.27" y="629.35">0.81</text>
</g>
<g font-size="16.8" text-anchor="end" fill="#000" stroke="#000" stroke-width="0.3">
<text x="17.7" y="100.75">1</text>
<text x="17.7" y="159.35">2</text>
<text x="17.7" y="217.95">3</text>
<text x="17.7" y="276.55">4</text>
<text x="17.7" y="335.15">5</text>
<text x="17.7" y="393.75">6</text>
<text x="17.7" y="452.35">7</text>
<text x="17.7" y="510.95">8</text>
<text x="17.7" y="569.55">9</text>
<text x="17.7" y="628.15">10</text>
</g>
<g font-size="16.8" fill="#000" stroke="#000" stroke-width="0.3">
<text transform="translate(59.07 66.00) rotate(-45)">send</text>
<text transform="translate(117.83 66.00) rotate(-45)">arrival</text>
<text transform="translate(176.58 66.00) rotate(-45)">size</text>
<text transform="translate(234.33 65.20) rotate(-45)">queuetime</text>
<text transform="translate(294.07 66.00) rotate(-45)">node</text>
<text transform="translate(351.82 65.20) rotate(-45)">priority</text>
<text transform="translate(411.57 66.00) rotate(-45)">interval</text>
<text transform="translate(470.32 66.00) rotate(-45)">traffic</text>
<text transform="translate(528.07 65.20) rotate(-45)">throughput</text>
<text transform="translate(585.22 63.40) rotate(-45)">y</text>
</g>
<defs><linearGradient id="cb" x1="0" y1="1" x2="0" y2="0">
<stop offset="0%" stop-color="#69031F"/>
<stop offset="10%" stop-color="#B01C30"/>
<stop offset="20%" stop-color="#D35F4E"/>
<stop offset="30%" stop-color="#EE9F7D"/>
<stop offset="40%" stop-color="#F8D6C2"/>
<stop offset="45%" stop-color="#F8E3D6"/>
<stop offset="48.5%" stop-color="#F8F4EF"/>
<stop offset="49.5%" stop-color="#FCFCFB"/>
<stop offset="50%" stop-color="#FDFDFD"/>
<stop offset="50.5%" stop-color="#FAFCFD"/>
<stop offset="52.5%" stop-color="#EFF4F5"/>
<stop offset="55%" stop-color="#DCE7EC"/>
<stop offset="57%" stop-color="#D0E2EA"/>
<stop offset="60%" stop-color="#C4DCE8"/>
<stop offset="70%" stop-color="#76B7D9"/>
<stop offset="80%" stop-color="#2C8AC5"/>
<stop offset="90%" stop-color="#0B63AF"/>
<stop offset="100%" stop-color="#0A3767"/>
</linearGradient></defs>
<rect x="623.3" y="67.95" width="20.50" height="586.00" fill="url(#cb)" stroke="#111" stroke-width="0.8"/>
<g font-size="14.1" text-anchor="middle" fill="#000" stroke="#000" stroke-width="0.3">
<text x="669.5" y="72.55">1</text>
<text x="669.5" y="131.15">0.8</text>
<text x="669.5" y="189.75">0.6</text>
<text x="669.5" y="248.35">0.4</text>
<text x="669.5" y="306.95">0.2</text>
<text x="669.5" y="365.55">0</text>
<text x="669.5" y="424.15">−0.2</text>
<text x="669.5" y="482.75">−0.4</text>
<text x="669.5" y="541.35">−0.6</text>
<text x="669.5" y="599.95">−0.8</text>
<text x="669.5" y="658.55">−1</text>
</g>
<path d="M643.80 67.95h4M643.80 126.55h4M643.80 185.15h4M643.80 243.75h4M643.80 302.35h4M643.80 360.95h4M643.80 419.55h4M643.80 478.15h4M643.80 536.75h4M643.80 595.35h4M643.80 653.95h4" stroke="#000" stroke-width="1.2" fill="none"/>
</svg></body></html>
